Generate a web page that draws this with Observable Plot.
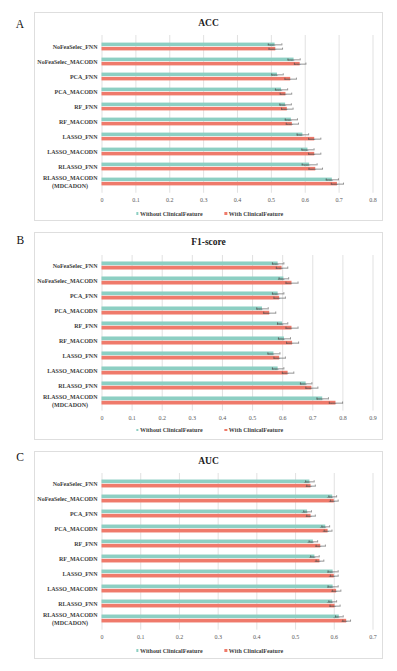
<!DOCTYPE html>
<html><head><meta charset="utf-8">
<script src="https://cdn.jsdelivr.net/npm/d3@7"></script>
<script src="https://cdn.jsdelivr.net/npm/@observablehq/plot@0.6"></script>
<style>
html,body{margin:0;padding:0;background:#fff;}
#root{position:relative;width:397px;height:671px;overflow:hidden;font-family:"Liberation Serif","Times New Roman",serif;}
.box{position:absolute;left:34px;width:349px;border:1px solid #dedede;box-sizing:border-box;}
.letter{position:absolute;font-size:11.5px;color:#111;transform:translate(-50%,-50%);line-height:1;}
.title{position:absolute;left:208.5px;transform:translate(-50%,-50%);font-weight:bold;font-size:9.5px;color:#222;white-space:nowrap;line-height:1;}
.legend{position:absolute;left:209.5px;transform:translate(-50%,-50%);font-weight:bold;font-size:6px;color:#404040;white-space:nowrap;line-height:1;display:flex;align-items:center;}
.sw{display:inline-block;width:2.6px;height:2.6px;margin-right:1.6px;}
.gap{display:inline-block;width:22px;}
.plot{position:absolute;left:0;}
</style></head><body><div id="root"></div>
<script>
const categories = ["NoFeaSelec_FNN","NoFeaSelec_MACODN","PCA_FNN","PCA_MACODN","RF_FNN","RF_MACODN","LASSO_FNN","LASSO_MACODN","RLASSO_FNN","RLASSO_MACODN\n(MDCADON)"];
const seriesNames = ["Without ClinicalFeature","With ClinicalFeature"];
const seriesColors = ["#8dcfc3","#ef7a6b"];

const accWithout = [0.511,0.567,0.518,0.530,0.542,0.559,0.593,0.608,0.613,0.680];
const accWith    = [0.513,0.585,0.557,0.543,0.547,0.562,0.628,0.628,0.631,0.695];
const accWithoutErr = [0.020,0.018,0.017,0.018,0.017,0.018,0.017,0.018,0.022,0.018];
const accWithErr    = [0.020,0.017,0.017,0.017,0.017,0.018,0.018,0.018,0.020,0.018];
const accTicks = [0,0.1,0.2,0.3,0.4,0.5,0.6,0.7,0.8];
const accTickLabels = ["0","0.1","0.2","0.3","0.4","0.5","0.6","0.7","0.8"];

const f1Without = [0.585,0.604,0.585,0.533,0.600,0.606,0.571,0.585,0.678,0.733];
const f1With    = [0.598,0.631,0.590,0.557,0.631,0.633,0.590,0.618,0.697,0.777];
const f1WithoutErr = [0.019,0.016,0.019,0.019,0.017,0.020,0.020,0.019,0.019,0.019];
const f1WithErr    = [0.019,0.020,0.019,0.020,0.020,0.020,0.019,0.019,0.020,0.022];
const f1Ticks = [0,0.1,0.2,0.3,0.4,0.5,0.6,0.7,0.8,0.9];
const f1TickLabels = ["0","0.1","0.2","0.3","0.4","0.5","0.6","0.7","0.8","0.9"];

const aucWithout = [0.537,0.596,0.531,0.578,0.546,0.550,0.597,0.597,0.596,0.613];
const aucWith    = [0.540,0.600,0.540,0.584,0.565,0.563,0.600,0.606,0.602,0.632];
const aucWithoutErr = [0.011,0.010,0.010,0.010,0.011,0.011,0.013,0.013,0.010,0.010];
const aucWithErr    = [0.011,0.010,0.011,0.010,0.012,0.010,0.010,0.011,0.013,0.010];
const aucTicks = [0,0.1,0.2,0.3,0.4,0.5,0.6,0.7];
const aucTickLabels = ["0","0.1","0.2","0.3","0.4","0.5","0.6","0.7"];

const panels = [
  {letter:"A", title:"ACC", wo:accWithout, wi:accWith, woE:accWithoutErr, wiE:accWithErr, ticks:accTicks, labels:accTickLabels,
   boxTop:12, boxH:209, letterX:20, letterY:24.5, titleY:24, first:43, last:185, legendY:213.5},
  {letter:"B", title:"F1-score", wo:f1Without, wi:f1With, woE:f1WithoutErr, wiE:f1WithErr, ticks:f1Ticks, labels:f1TickLabels,
   boxTop:231.5, boxH:208, letterX:20.3, letterY:240.5, titleY:243, first:262.7, last:402.7, legendY:430},
  {letter:"C", title:"AUC", wo:aucWithout, wi:aucWith, woE:aucWithoutErr, wiE:aucWithErr, ticks:aucTicks, labels:aucTickLabels,
   boxTop:450.5, boxH:208.5, letterX:20, letterY:458, titleY:461.7, first:480.7, last:621.7, legendY:650.7}
];

const root = document.getElementById("root");
function el(tag, cls, css, text){
  const e = document.createElement(tag);
  if (cls) e.className = cls;
  if (css) e.style.cssText = css;
  if (text != null) e.textContent = text;
  root.appendChild(e);
  return e;
}

for (const p of panels) {
  el("div","box",`top:${p.boxTop}px;height:${p.boxH}px;`);
  el("div","letter",`left:${p.letterX}px;top:${p.letterY}px;`,p.letter);
  el("div","title",`top:${p.titleY}px;`,p.title);

  const step = (p.last - p.first) / 9;
  const half = step / 2;
  const barH = 4.3;
  const mb = 14;
  const rows = categories.map((c,i)=>({cat:c, wo:p.wo[i], wi:p.wi[i], woE:p.woE[i], wiE:p.wiE[i]}));
  const single = rows.filter(d => !d.cat.includes("\n"));
  const multi = rows.filter(d => d.cat.includes("\n"));
  const errStroke = "#4a4a4a";
  const chart = Plot.plot({
    width: 397, height: step*10 + mb,
    marginTop: 0, marginBottom: mb, marginLeft: 101.5, marginRight: 24.5,
    style: {fontFamily: "Liberation Serif, 'Times New Roman', serif", fontSize: "6px", color: "#595959", background: "transparent"},
    x: {domain: [0, p.ticks[p.ticks.length-1]], ticks: p.ticks, tickSize: 0, tickPadding: 4.5,
        tickFormat: d => p.labels[p.ticks.findIndex(t => Math.abs(t - d) < 1e-9)], label: null},
    y: {domain: categories, axis: null, padding: 0, label: null},
    marks: [
      Plot.ruleX(p.ticks, {stroke: "#d9d9d9", strokeWidth: 0.8}),
      Plot.barX(rows, {x: "wo", y: "cat", fill: seriesColors[0], insetTop: half - barH, insetBottom: half}),
      Plot.barX(rows, {x: "wi", y: "cat", fill: seriesColors[1], insetTop: half, insetBottom: half - barH}),
      Plot.text(rows, {x: "wo", y: "cat", text: d => d.wo.toFixed(3), dy: -barH/2, dx: 0.5, textAnchor: "end", fontSize: 2.8, fill: "#666"}),
      Plot.text(rows, {x: "wi", y: "cat", text: d => d.wi.toFixed(3), dy: barH/2, dx: 0.5, textAnchor: "end", fontSize: 2.8, fill: "#666"}),
      Plot.ruleY(rows, {y: "cat", x1: d => d.wo - d.woE, x2: d => d.wo + d.woE, dy: -barH/2, stroke: errStroke, strokeWidth: 0.6}),
      Plot.ruleY(rows, {y: "cat", x1: d => d.wi - d.wiE, x2: d => d.wi + d.wiE, dy: barH/2, stroke: errStroke, strokeWidth: 0.6}),
      Plot.tickX(rows, {y: "cat", x: d => d.wo - d.woE, insetTop: half - barH/2 - 1.4, insetBottom: half + barH/2 - 1.4, stroke: errStroke, strokeWidth: 0.6}),
      Plot.tickX(rows, {y: "cat", x: d => d.wo + d.woE, insetTop: half - barH/2 - 1.4, insetBottom: half + barH/2 - 1.4, stroke: errStroke, strokeWidth: 0.6}),
      Plot.tickX(rows, {y: "cat", x: d => d.wi - d.wiE, insetTop: half + barH/2 - 1.4, insetBottom: half - barH/2 - 1.4, stroke: errStroke, strokeWidth: 0.6}),
      Plot.tickX(rows, {y: "cat", x: d => d.wi + d.wiE, insetTop: half + barH/2 - 1.4, insetBottom: half - barH/2 - 1.4, stroke: errStroke, strokeWidth: 0.6}),
      Plot.text(single, {y: "cat", text: "cat", frameAnchor: "left", textAnchor: "end", dx: -4.5, fontWeight: "bold", fontSize: 6, fill: "#404040"}),
      Plot.text(multi, {y: "cat", text: d => d.cat.split("\n")[0], frameAnchor: "left", textAnchor: "end", dx: -4.5, dy: -3.8, fontWeight: "bold", fontSize: 6, fill: "#404040"}),
      Plot.text(multi, {y: "cat", text: d => d.cat.split("\n")[1], frameAnchor: "left", textAnchor: "middle", dx: -32, dy: 3.8, fontWeight: "bold", fontSize: 6, fill: "#404040"})
    ]
  });
  chart.classList.add("plot");
  chart.style.top = (p.first - half) + "px";
  chart.style.position = "absolute";
  chart.style.left = "0px";
  root.appendChild(chart);

  const lg = el("div","legend",`top:${p.legendY}px;`);
  seriesNames.forEach((n,i)=>{
    if (i > 0) { const g = document.createElement("span"); g.className = "gap"; lg.appendChild(g); }
    const s = document.createElement("span"); s.className = "sw"; s.style.background = seriesColors[i]; lg.appendChild(s);
    const t = document.createElement("span"); t.textContent = n; lg.appendChild(t);
  });
}
</script>
</body></html>
